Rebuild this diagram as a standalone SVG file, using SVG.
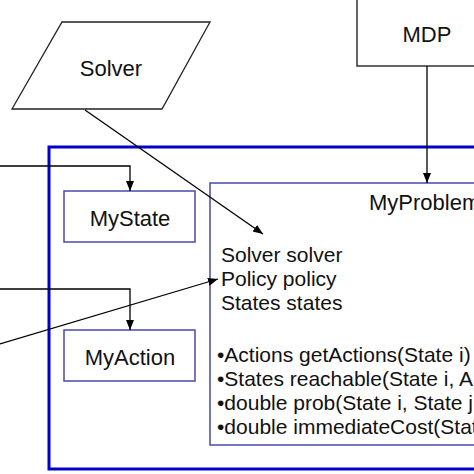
<svg xmlns="http://www.w3.org/2000/svg" width="474" height="474" viewBox="0 0 474 474">
<style>
text{font-family:"Liberation Sans",Arial,sans-serif;fill:#111}
.lbl{font-size:22px}
.body{font-size:21px}
.inner{fill:#fff;stroke:#4a4aa8;stroke-width:1.5}
.conn{fill:none;stroke:#000;stroke-width:1.3}
</style>
<defs>
<marker id="ah" viewBox="0 0 10 10" refX="10" refY="5" markerWidth="10" markerHeight="10" markerUnits="userSpaceOnUse" orient="auto">
<path d="M0,1 L10,5 L0,9 Z" fill="#000"/>
</marker>
</defs>
<rect width="474" height="474" fill="#fff"/>
<g id="outer">
<rect x="49" y="147" width="440" height="322" fill="none" stroke="#0000cc" stroke-width="3"/>
</g>
<g id="solver">
<polygon points="62,22 210,22 162,109 12,109" fill="#fff" stroke="#222" stroke-width="1.3"/>
<text class="lbl" x="111" y="76" text-anchor="middle">Solver</text>
</g>
<g id="mdp">
<rect x="357" y="-10" width="150" height="76" fill="#fff" stroke="#333" stroke-width="1.5"/>
<text class="lbl" x="427" y="42" text-anchor="middle">MDP</text>
</g>
<g id="mystate">
<rect class="inner" x="64" y="191" width="131" height="51"/>
<text class="lbl" x="130" y="226" text-anchor="middle">MyState</text>
</g>
<g id="myaction">
<rect class="inner" x="64" y="330" width="131" height="51"/>
<text class="lbl" x="130" y="365" text-anchor="middle">MyAction</text>
</g>
<g id="myproblem">
<rect class="inner" x="210" y="183" width="290" height="262"/>
<text class="lbl" x="369" y="210">MyProblem</text>
<text class="body" x="221" y="262">Solver solver</text>
<text class="body" x="221" y="286">Policy policy</text>
<text class="body" x="221" y="310">States states</text>
<text class="body" x="217" y="362">•Actions getActions(State i)</text>
<text class="body" x="217" y="386">•States reachable(State i, A</text>
<text class="body" x="217" y="410">•double prob(State i, State j</text>
<text class="body" x="217" y="434">•double immediateCost(Stat</text>
</g>
<g id="connectors">
<polyline class="conn" points="0,166 130,166 130,191" marker-end="url(#ah)"/>
<polyline class="conn" points="0,289 130,289 130,330" marker-end="url(#ah)"/>
<line class="conn" x1="427" y1="66" x2="427" y2="183" marker-end="url(#ah)"/>
<line class="conn" x1="85" y1="110" x2="263" y2="234" marker-end="url(#ah)"/>
<line class="conn" x1="0" y1="344" x2="218" y2="279" marker-end="url(#ah)"/>
</g>
</svg>
